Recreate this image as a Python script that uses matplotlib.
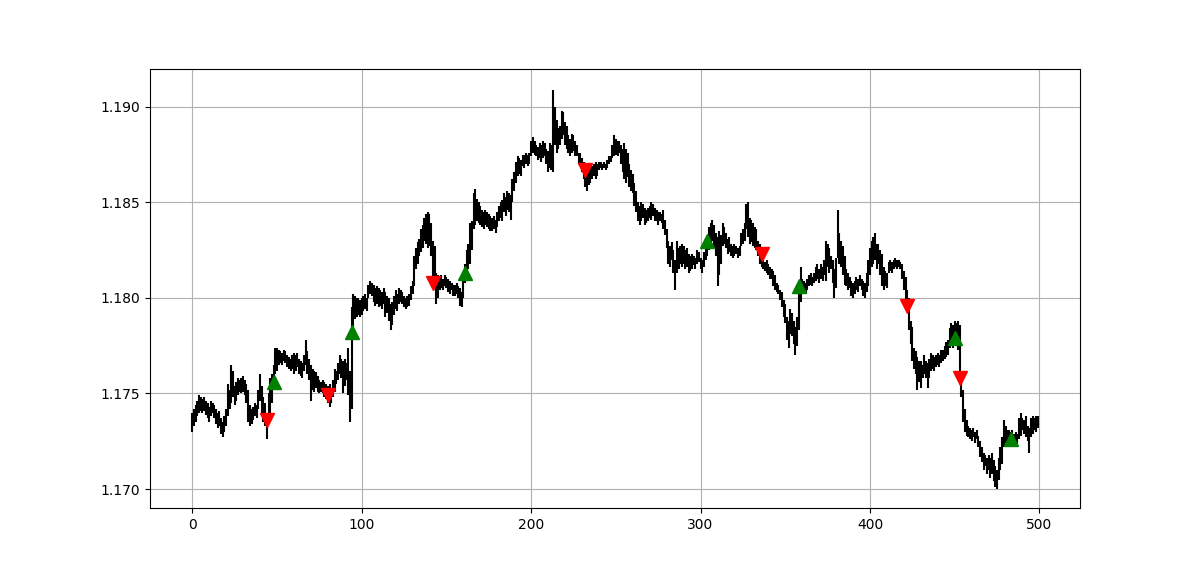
import matplotlib
matplotlib.use('Agg')
import matplotlib.pyplot as plt
import numpy as np

# bar lows / highs in 1e-4 units (11730 -> 1.1730), one per bar, 10 per row
lows = [
    11730, 11733, 11735, 11738, 11740, 11741, 11740, 11741, 11739, 11737,
    11735, 11738, 11740, 11737, 11734, 11732, 11733, 11729, 11727, 11730,
    11733, 11738, 11742, 11745, 11748, 11744, 11746, 11749, 11751, 11750,
    11751, 11749, 11745, 11735, 11733, 11734, 11736, 11738, 11737, 11742,
    11746, 11740, 11735, 11733, 11726, 11735, 11739, 11745, 11752, 11760,
    11762, 11765, 11766, 11765, 11767, 11766, 11764, 11763, 11762, 11763,
    11760, 11762, 11764, 11760, 11759, 11758, 11762, 11765, 11760, 11757,
    11746, 11752, 11751, 11753, 11751, 11750, 11751, 11750, 11748, 11747,
    11745, 11743, 11745, 11748, 11751, 11755, 11757, 11760, 11758, 11750,
    11754, 11757, 11749, 11735, 11742, 11780, 11789, 11790, 11791, 11790,
    11791, 11793, 11794, 11793, 11800, 11802, 11801, 11798, 11796, 11797,
    11795, 11796, 11794, 11797, 11790, 11792, 11788, 11783, 11786, 11791,
    11794, 11793, 11797, 11798, 11797, 11795, 11794, 11795, 11796, 11799,
    11802, 11806, 11815, 11818, 11822, 11824, 11826, 11830, 11828, 11826,
    11827, 11822, 11810, 11806, 11797, 11800, 11804, 11805, 11804, 11806,
    11805, 11803, 11802, 11804, 11801, 11801, 11802, 11800, 11796, 11795,
    11800, 11808, 11811, 11815, 11818, 11825, 11836, 11838, 11840, 11839,
    11838, 11837, 11836, 11838, 11837, 11836, 11835, 11835, 11836, 11834,
    11837, 11840, 11842, 11840, 11845, 11843, 11846, 11845, 11841, 11850,
    11856, 11860, 11864, 11865, 11864, 11869, 11868, 11870, 11869, 11870,
    11874, 11876, 11875, 11874, 11872, 11873, 11871, 11873, 11874, 11870,
    11866, 11868, 11867, 11866, 11880, 11876, 11878, 11880, 11883, 11885,
    11880, 11878, 11876, 11874, 11876, 11877, 11874, 11874, 11870, 11869,
    11866, 11862, 11858, 11856, 11859, 11860, 11862, 11864, 11862, 11864,
    11867, 11868, 11867, 11868, 11867, 11868, 11870, 11871, 11873, 11874,
    11875, 11874, 11876, 11870, 11866, 11862, 11860, 11863, 11858, 11856,
    11855, 11848, 11845, 11840, 11838, 11840, 11842, 11838, 11839, 11840,
    11842, 11841, 11843, 11840, 11840, 11838, 11840, 11839, 11836, 11833,
    11826, 11818, 11816, 11820, 11813, 11804, 11813, 11815, 11818, 11816,
    11818, 11815, 11816, 11813, 11814, 11815, 11817, 11815, 11818, 11819,
    11815, 11813, 11816, 11820, 11822, 11825, 11828, 11830, 11826, 11822,
    11806, 11812, 11818, 11827, 11828, 11826, 11823, 11824, 11822, 11821,
    11822, 11823, 11821, 11822, 11827, 11828, 11830, 11836, 11832, 11828,
    11829, 11827, 11826, 11825, 11822, 11818, 11816, 11815, 11814, 11813,
    11812, 11810, 11810, 11806, 11804, 11803, 11802, 11799, 11795, 11790,
    11787, 11778, 11774, 11781, 11780, 11776, 11770, 11775, 11783, 11798,
    11802, 11803, 11802, 11804, 11806, 11807, 11806, 11808, 11809, 11810,
    11808, 11810, 11809, 11812, 11809, 11816, 11813, 11815, 11808, 11800,
    11805, 11821, 11818, 11816, 11812, 11807, 11806, 11804, 11805, 11801,
    11800, 11802, 11804, 11803, 11806, 11804, 11801, 11800, 11803, 11806,
    11812, 11816, 11818, 11820, 11815, 11818, 11812, 11806, 11804, 11806,
    11805, 11813, 11814, 11813, 11815, 11816, 11815, 11816, 11815, 11810,
    11804, 11799, 11796, 11783, 11776, 11767, 11763, 11760, 11752, 11756,
    11753, 11758, 11760, 11758, 11753, 11758, 11762, 11763, 11762, 11764,
    11765, 11764, 11766, 11767, 11768, 11769, 11770, 11774, 11776, 11774,
    11776, 11777, 11773, 11758, 11748, 11735, 11730, 11728, 11727, 11726,
    11725, 11727, 11724, 11726, 11722, 11717, 11714, 11710, 11712, 11708,
    11710, 11706, 11708, 11704, 11701, 11700, 11705, 11710, 11713, 11722,
    11724, 11723, 11725, 11724, 11726, 11724, 11725, 11723, 11726, 11728,
    11731, 11729, 11727, 11725, 11719, 11727, 11729, 11731, 11730, 11732,
]
highs = [
    11740, 11742, 11744, 11746, 11749, 11748, 11747, 11748, 11746, 11745,
    11743, 11746, 11745, 11744, 11742, 11740, 11741, 11737, 11735, 11738,
    11742, 11755, 11752, 11765, 11762, 11754, 11756, 11758, 11757, 11758,
    11759, 11757, 11755, 11752, 11744, 11742, 11743, 11745, 11744, 11752,
    11760, 11754, 11748, 11745, 11740, 11750, 11758, 11760, 11765, 11774,
    11774, 11773, 11772, 11771, 11773, 11772, 11770, 11769, 11768, 11770,
    11771, 11770, 11771, 11768, 11767, 11766, 11770, 11778, 11772, 11768,
    11765, 11763, 11762, 11761, 11759, 11757, 11756, 11757, 11756, 11755,
    11754, 11755, 11753, 11757, 11763, 11762, 11766, 11770, 11768, 11767,
    11768, 11766, 11774, 11762, 11795, 11802, 11801, 11800, 11800, 11799,
    11800, 11801, 11802, 11800, 11807, 11809, 11808, 11807, 11805, 11806,
    11805, 11804, 11803, 11805, 11803, 11801, 11800, 11797, 11798, 11801,
    11804, 11802, 11805, 11804, 11803, 11801, 11800, 11801, 11802, 11806,
    11809, 11822, 11826, 11829, 11831, 11836, 11838, 11842, 11844, 11845,
    11844, 11839, 11830, 11827, 11813, 11812, 11811, 11812, 11810, 11812,
    11811, 11810, 11809, 11808, 11807, 11807, 11808, 11806, 11805, 11803,
    11812, 11818, 11825, 11828, 11839, 11840, 11855, 11857, 11852, 11850,
    11848, 11846, 11845, 11846, 11845, 11844, 11843, 11842, 11843, 11841,
    11845, 11848, 11850, 11851, 11855, 11853, 11856, 11855, 11854, 11862,
    11866, 11871, 11874, 11873, 11872, 11875, 11875, 11876, 11875, 11876,
    11882, 11884, 11882, 11880, 11879, 11881, 11880, 11882, 11881, 11878,
    11877, 11881, 11880, 11909, 11900, 11893, 11889, 11890, 11898, 11897,
    11892, 11890, 11885, 11883, 11886, 11885, 11882, 11880, 11876, 11876,
    11873, 11871, 11867, 11867, 11867, 11868, 11869, 11870, 11871, 11870,
    11871, 11871, 11870, 11871, 11870, 11872, 11874, 11874, 11880, 11885,
    11883, 11882, 11882, 11880, 11878, 11881, 11878, 11876, 11870, 11867,
    11865, 11860, 11856, 11850, 11848, 11850, 11849, 11847, 11846, 11847,
    11848, 11850, 11849, 11847, 11846, 11845, 11845, 11844, 11846, 11841,
    11836, 11830, 11827, 11829, 11825, 11820, 11830, 11826, 11827, 11828,
    11827, 11825, 11826, 11823, 11822, 11823, 11822, 11821, 11825, 11824,
    11821, 11820, 11824, 11830, 11832, 11837, 11839, 11841, 11838, 11834,
    11832, 11835, 11833, 11839, 11837, 11834, 11831, 11832, 11828, 11827,
    11828, 11827, 11826, 11827, 11834, 11836, 11839, 11849, 11850, 11842,
    11841, 11839, 11837, 11836, 11830, 11828, 11826, 11820, 11819, 11820,
    11818, 11816, 11815, 11814, 11812, 11808, 11807, 11804, 11803, 11799,
    11797, 11790, 11788, 11794, 11792, 11788, 11785, 11790, 11806, 11816,
    11810, 11809, 11808, 11810, 11812, 11813, 11811, 11813, 11816, 11818,
    11815, 11818, 11816, 11820, 11830, 11828, 11826, 11822, 11820, 11815,
    11821, 11846, 11834, 11830, 11827, 11822, 11815, 11813, 11811, 11809,
    11808, 11809, 11811, 11810, 11812, 11810, 11809, 11808, 11813, 11820,
    11826, 11830, 11832, 11834, 11828, 11828, 11825, 11823, 11816, 11814,
    11813, 11819, 11820, 11819, 11820, 11821, 11820, 11820, 11819, 11818,
    11814, 11811, 11804, 11800, 11788, 11785, 11774, 11772, 11769, 11767,
    11767, 11765, 11770, 11767, 11766, 11768, 11771, 11770, 11769, 11770,
    11771, 11770, 11773, 11773, 11775, 11777, 11778, 11784, 11787, 11786,
    11788, 11787, 11788, 11786, 11762, 11752, 11742, 11736, 11733, 11732,
    11731, 11732, 11730, 11731, 11728, 11725, 11722, 11719, 11718, 11716,
    11718, 11716, 11719, 11715, 11712, 11710, 11716, 11722, 11727, 11736,
    11733, 11731, 11731, 11730, 11731, 11729, 11730, 11729, 11737, 11740,
    11737, 11736, 11738, 11733, 11732, 11737, 11738, 11737, 11738, 11738,
]

buy_idx = [48, 94, 161, 304, 358, 450, 483]
buy_px = [1.1756, 1.1782, 1.1813, 1.1830, 1.1806, 1.1779, 1.1726]
sell_idx = [44, 80, 142, 232, 336, 422, 453]
sell_px = [1.1736, 1.1749, 1.1808, 1.1867, 1.1823, 1.1796, 1.1758]

lo = np.array(lows) / 10000
hi = np.array(highs) / 10000
x = np.arange(len(lo))

plt.figure(figsize=(12, 5.71), dpi=100)
plt.vlines(x, lo, hi, color='black', linewidth=1.5)
plt.plot(buy_idx, buy_px, '^', color='green', markersize=10, zorder=3)
plt.plot(sell_idx, sell_px, 'v', color='red', markersize=10, zorder=3)
plt.ylim(1.169, 1.192)
plt.grid()
plt.savefig('out.png')
